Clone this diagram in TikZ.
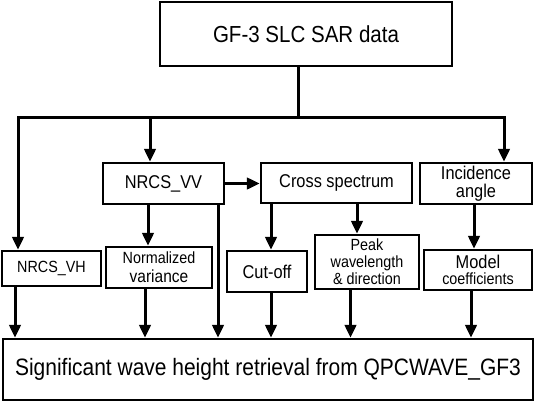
\documentclass[tikz,border=0pt]{standalone}
\usepackage{fontspec}
\setmainfont{Liberation Sans}[FakeStretch=0.885]
\usetikzlibrary{arrows.meta,calc}
\begin{document}
\begin{tikzpicture}[x=1pt,y=-1pt,
  box/.style={draw, line width=2.5pt, inner sep=0pt, align=center},
  big/.style={font=\fontsize{23.2}{24}\selectfont},
  mid/.style={font=\fontsize{18.5}{17.5}\selectfont},
  small/.style={font=\fontsize{16.2}{17}\selectfont},
  conn/.style={line width=3pt},
  arr/.style={conn, -{Triangle[width=11.5pt,length=13pt]}}]
\useasboundingbox (0,0) rectangle (535,402);
% boxes
\node[box, big, minimum width=292pt, minimum height=64pt] (top) at (306,34) {GF-3 SLC SAR data};
\node[box, mid, minimum width=121pt, minimum height=41pt] (vv) at (163.5,183.5) {NRCS\_VV};
\node[box, mid, minimum width=151pt, minimum height=40pt] (cs) at (336.5,183) {Cross spectrum};
\node[box, mid, minimum width=112pt, minimum height=41pt] (inc) at (476,183.5) {Incidence\\angle};
\node[box, small, minimum width=99pt, minimum height=35pt] (vh) at (51.5,268.5) {NRCS\_VH};
\node[box, font=\fontsize{16.2}{19}\selectfont, minimum width=106pt, minimum height=41pt] (nv) at (159,267.5) {Normalized\\{\fontsize{17.5}{19}\selectfont variance}};
\node[box, mid, minimum width=80pt, minimum height=41pt] (co) at (267,271.5) {Cut-off};
\node[box, small, minimum width=104pt, minimum height=54pt] (pk) at (367,262) {Peak\\wavelength\\\&~direction};
\node[box, font=\fontsize{16.2}{16.5}\selectfont, minimum width=108pt, minimum height=40pt] (mc) at (478,270) {{\fontsize{18.5}{16.5}\selectfont Model}\\coefficients};
\node[box, font=\fontsize{23.7}{24}\selectfont, minimum width=530pt, minimum height=61pt] (bot) at (268,369.5) {Significant wave height retrieval from QPCWAVE\_GF3};
% distribution
\coordinate (hub) at (298,117);
\coordinate (hl) at (18,117);
\coordinate (hr) at (504,117);
\coordinate (vvin) at (150,117);
\draw[conn] ([xshift=-8pt]top.south) -- (hub);
\draw[arr] (hub) -- (hl) -- (hl |- vh.north);
\draw[arr] (hub) -- (hr) -- (hr |- inc.north);
\draw[arr] (vvin) -- (vvin |- vv.north);
\draw[arr] (vv.east) -- (cs.west |- vv.east);
% second level
\draw[arr] ([xshift=-15.5pt]vv.south) -- ([xshift=-15.5pt]vv.south |- nv.north);
\draw[arr] ([xshift=54.5pt]vv.south) -- ([xshift=54.5pt]vv.south |- bot.north);
\draw[arr] ([xshift=-65.5pt]cs.south) -- ([xshift=-65.5pt]cs.south |- co.north);
\draw[arr] ([xshift=20.5pt]cs.south) -- ([xshift=20.5pt]cs.south |- pk.north);
\draw[arr] ([xshift=-2pt]inc.south) -- ([xshift=-2pt]inc.south |- mc.north);
% to bottom
\draw[arr] ([xshift=-36.5pt]vh.south) -- ([xshift=-36.5pt]vh.south |- bot.north);
\draw[arr] ([xshift=-14pt]nv.south) -- ([xshift=-14pt]nv.south |- bot.north);
\draw[arr] ([xshift=4pt]co.south) -- ([xshift=4pt]co.south |- bot.north);
\draw[arr] ([xshift=-16.5pt]pk.south) -- ([xshift=-16.5pt]pk.south |- bot.north);
\draw[arr] ([xshift=-7pt]mc.south) -- ([xshift=-7pt]mc.south |- bot.north);
\end{tikzpicture}
\end{document}
